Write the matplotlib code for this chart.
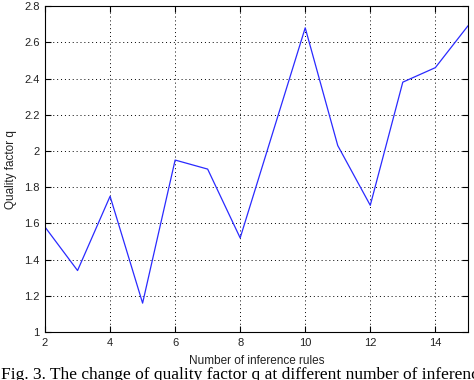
import matplotlib
matplotlib.use("Agg")
import matplotlib.pyplot as plt

# number of inference rules and the quality factor q
rules = [2, 3, 4, 5, 6, 7, 8, 9, 10, 11, 12, 13, 14, 15]
q = [1.58, 1.34, 1.75, 1.16, 1.95, 1.90, 1.52, 2.10, 2.68, 2.03, 1.70, 2.38, 2.46, 2.69]

xticks = [2, 4, 6, 8, 10, 12, 14]
yticks = [1, 1.2, 1.4, 1.6, 1.8, 2, 2.2, 2.4, 2.6, 2.8]
ytick_labels = ["1", "1.2", "1.4", "1.6", "1.8", "2", "2.2", "2.4", "2.6", "2.8"]

plt.rcParams["font.family"] = ["Liberation Sans", "DejaVu Sans"]

fig = plt.figure(figsize=(4.74, 3.8), dpi=100)
ax = fig.add_axes([0.095, 0.126, 0.892, 0.858])

ax.plot(rules, q, color="#2a2aff", lw=0.9)

ax.set_xlim(2, 15)
ax.set_ylim(1, 2.8)
ax.set_xticks(xticks)
ax.set_yticks(yticks)
ax.set_yticklabels(ytick_labels)
ax.tick_params(direction="in", length=4, width=0.8, top=True, right=True,
               labelsize=8, labelcolor="#222222", pad=4)
ax.grid(True, color="black", linestyle=(0, (1, 3)), linewidth=0.7)
for s in ax.spines.values():
    s.set_linewidth(0.8)

ax.set_xlabel("Number of inference rules", fontsize=8.5, labelpad=5, color="#222222")
ax.set_ylabel("Quality factor q", fontsize=8.5, labelpad=5, color="#222222")

# figure caption, running past the image edge like in the original
fig.text(0.003, 0.034, "Fig. 3. The change of quality factor q at different number of inference rules",
         fontsize=12.5, family="Liberation Serif", va="top", ha="left")

fig.savefig("out.png", dpi=100)
